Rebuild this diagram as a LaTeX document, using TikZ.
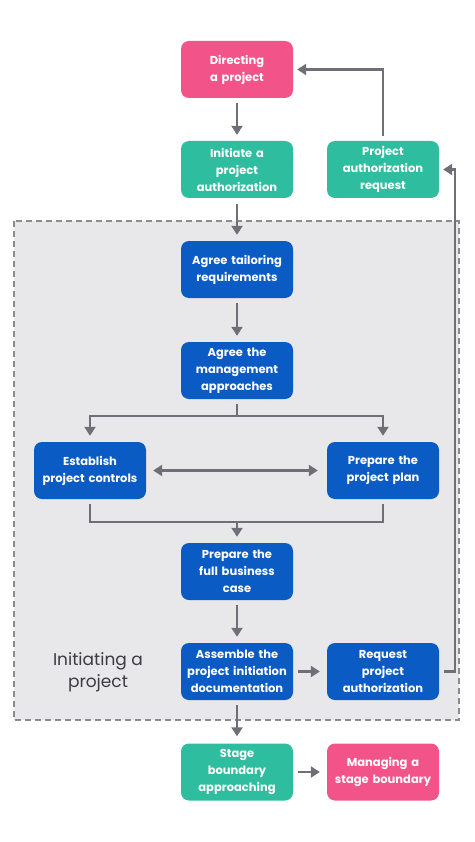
\documentclass[tikz,border=0pt]{standalone}
\usepackage{fontspec}
\setmainfont{Poppins}
\usetikzlibrary{arrows.meta}

\definecolor{pinkc}{HTML}{F2548A}
\definecolor{tealc}{HTML}{2EBD9E}
\definecolor{bluec}{HTML}{0A5BC4}
\definecolor{stagec}{HTML}{E8E7E9}
\definecolor{dashc}{HTML}{8A8A90}
\definecolor{linec}{HTML}{6E6F77}
\definecolor{labelc}{HTML}{3B3B42}

\begin{document}
\begin{tikzpicture}[x=1pt,y=-1pt,
  box/.style={rounded corners=8pt,minimum width=112pt,minimum height=57pt,text width=110pt,
    inner sep=0pt,align=center,text=white,font=\bfseries\fontsize{11.5}{17}\selectfont},
  pinkbox/.style={box,fill=pinkc},
  tealbox/.style={box,fill=tealc},
  bluebox/.style={box,fill=bluec},
  link/.style={draw=linec,line width=2.2pt},
  arr/.style={link,-{Triangle[length=9pt,width=11pt]}}]
\useasboundingbox (0,0) rectangle (474,842);
\fill[white] (0,0) rectangle (474,842);
\draw[dashc,fill=stagec,line width=1.4pt,dash pattern=on 6pt off 4pt] (14,221) rectangle (459,720); % initiating stage

\node[pinkbox] (direct) at (237,69.5) {Directing\\a project};
\node[tealbox] (initiate) at (237,169.5) {Initiate a\\project\\authorization};
\node[tealbox] (authreq) at (383,169.5) {Project\\authorization\\request};
\node[bluebox] (tailor) at (237,269.5) {Agree tailoring\\requirements};
\node[bluebox] (mgmt) at (237,370.5) {Agree the\\management\\approaches};
\node[bluebox] (controls) at (90,470.5) {Establish\\project controls};
\node[bluebox] (plan) at (383,470.5) {Prepare the\\project plan};
\node[bluebox] (bizcase) at (237,571.5) {Prepare the\\full business\\case};
\node[bluebox] (pid) at (237,671.5) {Assemble the\\project initiation\\documentation};
\node[bluebox] (request) at (383,671.5) {Request\\project\\authorization};
\node[tealbox] (stage) at (237,772) {Stage\\boundary\\approaching};
\node[pinkbox] (manage) at (383,772) {Managing a\\stage boundary};
\node[text=labelc,align=center,font=\fontsize{17}{22}\selectfont] (stagelbl) at (98,672) {Initiating a\\project};

\coordinate (split) at (237,416);
\coordinate (merge) at (237,522);
\coordinate (loopr) at (455,420);

\draw[arr,shorten <=5pt,shorten >=6pt] (direct) -- (initiate);
\draw[arr,shorten <=6pt,shorten >=6pt] (initiate) -- (tailor);
\draw[arr,shorten <=5pt,shorten >=4pt] (authreq.north) |- (direct.east);
\draw[arr,shorten <=5pt,shorten >=4pt] (request.east) -| (loopr) |- (authreq.east);
\draw[arr,shorten <=5pt,shorten >=6pt] (tailor) -- (mgmt);
\draw[link,shorten <=5pt] (mgmt.south) -- (split);
\draw[arr,shorten >=6pt] (split) -| (controls.north);
\draw[arr,shorten >=6pt] (split) -| (plan.north);
\draw[link,{Triangle[length=9pt,width=11pt]}-{Triangle[length=9pt,width=11pt]},shorten <=7pt,shorten >=9pt] (controls) -- (plan);
\draw[link,shorten <=5pt] (controls.south) |- (merge);
\draw[link,shorten <=5pt] (plan.south) |- (merge);
\draw[arr,shorten >=6pt] (merge) -- (bizcase.north);
\draw[arr,shorten <=5pt,shorten >=6pt] (bizcase) -- (pid);
\draw[arr,shorten <=5pt,shorten >=7pt] (pid) -- (request);
\draw[arr,shorten <=5pt,shorten >=7pt] (pid) -- (stage);
\draw[arr,shorten <=5pt,shorten >=7pt] (stage) -- (manage);
\end{tikzpicture}
\end{document}
